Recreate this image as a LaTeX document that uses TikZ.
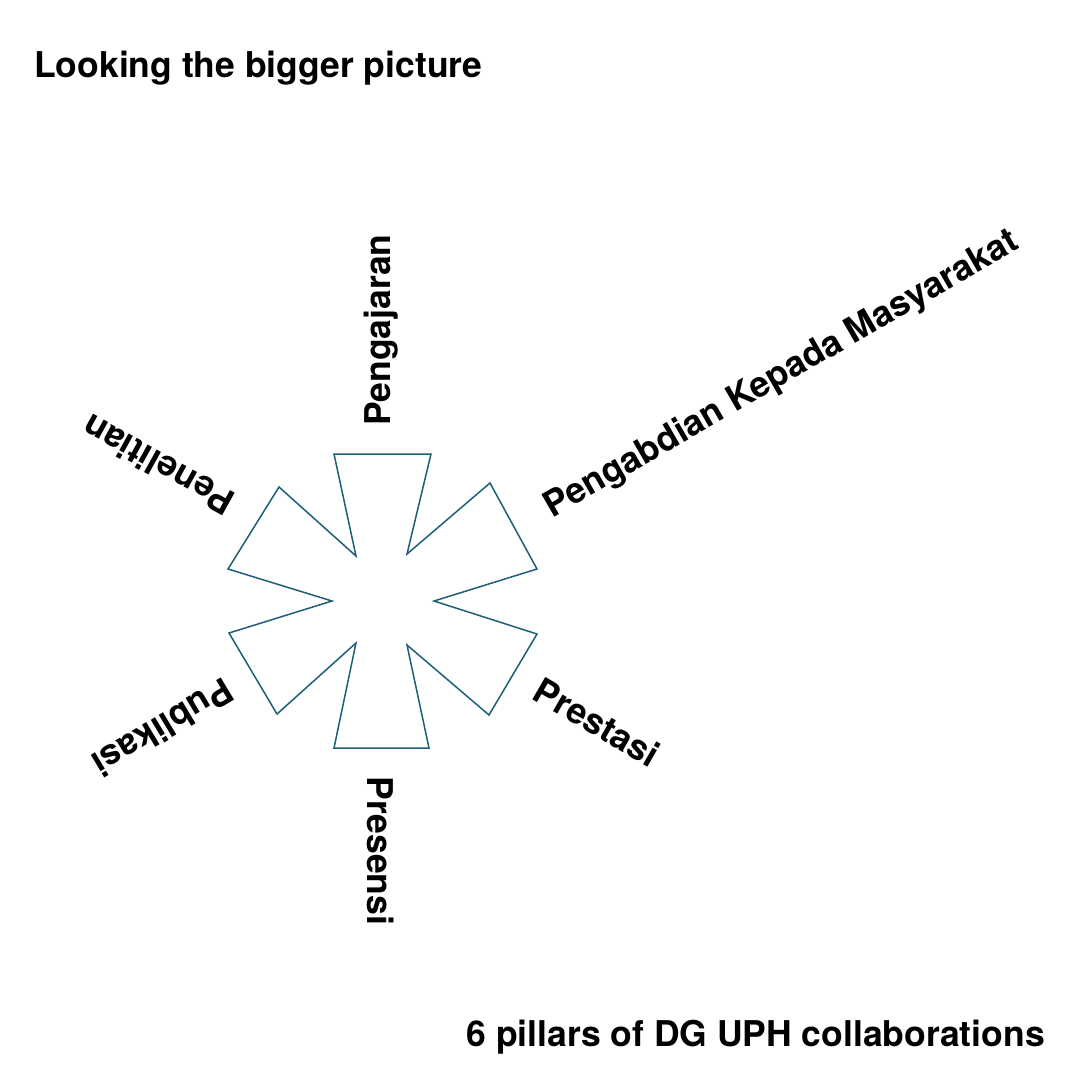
\documentclass[tikz,border=0pt]{standalone}
\usepackage{fontspec}
\setmainfont{TeX Gyre Heros}
\begin{document}
\begin{tikzpicture}[x=1pt,y=-1pt,
  lbl/.style={font=\bfseries\fontsize{35.5}{40}\selectfont, inner sep=0pt}]
\useasboundingbox (0,0) rectangle (1080,1080);
\draw[color={rgb,255:red,30;green,95;blue,120}, line width=1.5pt, line join=miter]
 (334,454)--(431,454)--(407,554)--(490,483)--(537,569)--(434,601)--(537,634)--(489,715)--(407,645)--(429,748)--(334,748)--(356,643)--(277,714)--(229,633)--(332,601)--(228,569)--(279,487)--(356,556)--cycle;
\node[lbl, anchor=west] (title) at (34,68) {Looking the bigger picture};
\node[lbl, anchor=east] (foot) at (1045,1037) {6 pillars of DG UPH collaborations};
\node[lbl, rotate=90] (p1) at (381,330) {Pengajaran};
\node[lbl, rotate=30] (p2) at (782,375) {Pengabdian Kepada Masyarakat};
\node[lbl, rotate=-30] (p3) at (597,722) {Prestasi};
\node[lbl, rotate=-90] (p4) at (381,851) {Presensi};
\node[lbl, rotate=211] (p5) at (163,728) {Publikasi};
\node[lbl, rotate=151] (p6) at (158,465) {Penelitian};
\end{tikzpicture}
\end{document}
